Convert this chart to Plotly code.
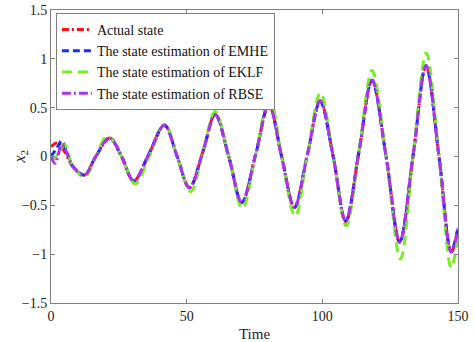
import plotly.graph_objects as go

# ---- data ----
t_actual = [0, 2.5, 5, 8, 12.3, 16.5, 21.8, 26, 30.5, 36, 41.8, 46.5, 51, 56, 60.5, 65.5,
            70.3, 75.5, 80.3, 85, 89.7, 94.5, 99.2, 104, 108.6, 113.5, 118.3, 123.5,
            128.5, 133.5, 138.2, 143, 147.5, 150]
y_actual = [0.10, 0.14, 0.05, -0.10, -0.19, 0.00, 0.19, 0.00, -0.25, 0.02, 0.32, 0.00,
            -0.32, 0.05, 0.43, 0.00, -0.47, 0.03, 0.53, 0.00, -0.52, 0.02, 0.57, 0.00,
            -0.67, 0.05, 0.78, 0.00, -0.88, 0.02, 0.93, 0.00, -0.98, -0.73]

t_emhe = [0, 2, 4, 6, 8, 12.3, 16.5, 21.5, 26, 30.5, 36, 41.8, 46.5, 51, 56, 60.5, 65.5,
          70.3, 75.5, 80.3, 85, 89.7, 94.5, 99.2, 104, 108.6, 113.5, 118.3, 123.5,
          128.5, 133.5, 138.2, 143, 147.5, 150]
y_emhe = [0.00, 0.08, 0.16, 0.03, -0.10, -0.19, 0.00, 0.19, 0.00, -0.25, 0.02, 0.32, 0.00,
          -0.32, 0.05, 0.43, 0.00, -0.47, 0.03, 0.53, 0.00, -0.52, 0.02, 0.56, 0.00,
          -0.66, 0.05, 0.78, 0.00, -0.87, 0.02, 0.93, 0.00, -0.97, -0.73]

t_eklf = [0, 1.5, 3, 5, 8, 12.5, 16.5, 20.8, 26, 31, 36.5, 42, 46.5, 51.5, 56, 60.5, 65.5,
          70.5, 75.5, 80.5, 85, 90, 94.5, 99.3, 104, 108.8, 113.5, 118.3, 123.5,
          128.8, 133.5, 138.3, 143, 147.5, 150]
y_eklf = [0.00, -0.02, 0.05, 0.12, -0.10, -0.21, 0.00, 0.21, 0.00, -0.28, 0.02, 0.33, 0.00,
          -0.36, 0.05, 0.46, 0.00, -0.53, 0.03, 0.62, 0.00, -0.61, 0.02, 0.65, 0.00,
          -0.71, 0.05, 0.88, 0.00, -1.05, 0.02, 1.06, 0.00, -1.14, -0.80]

t_rbse = [0, 1.5, 4, 6, 8, 12.3, 16.5, 21.5, 26, 30.5, 36, 41.8, 46.5, 51, 56, 60.5, 65.5,
          70.3, 75.5, 80.3, 85, 89.7, 94.5, 99.2, 104, 108.6, 113.5, 118.3, 123.5,
          128.5, 133.5, 138.2, 143, 147.5, 150]
y_rbse = [0.00, -0.07, 0.12, 0.03, -0.10, -0.19, 0.00, 0.19, 0.00, -0.25, 0.02, 0.32, 0.00,
          -0.32, 0.05, 0.43, 0.00, -0.47, 0.03, 0.53, 0.00, -0.52, 0.02, 0.57, 0.00,
          -0.66, 0.05, 0.78, 0.00, -0.87, 0.02, 0.93, 0.00, -0.98, -0.73]

series_names = ["Actual state",
                "The state estimation of EMHE",
                "The state estimation of EKLF",
                "The state estimation of RBSE"]

x_tickvals = [0, 50, 100, 150]
x_ticktext = ["0", "50", "100", "150"]
y_tickvals = [-1.5, -1, -0.5, 0, 0.5, 1, 1.5]
y_ticktext = ["\u22121.5", "\u22121", "\u22120.5", "0", "0.5", "1", "1.5"]

# ---- figure ----
FONT = "Liberation Serif, Times New Roman, serif"
AX = "#808080"

styles = [
    dict(color="#ff1010", dash="7px,3px,2px,3px", width=3),
    dict(color="#1a2bff", dash="7px,4px", width=3),
    dict(color="#77ee22", dash="10px,6px", width=3),
    dict(color="#aa33ee", dash="9px,3px,2px,3px", width=3),
]
xs = [t_actual, t_emhe, t_eklf, t_rbse]
ys = [y_actual, y_emhe, y_eklf, y_rbse]

fig = go.Figure()
for name, x, y, st in zip(series_names, xs, ys, styles):
    fig.add_trace(go.Scatter(x=x, y=y, mode="lines", name=name,
                             line=dict(shape="spline", smoothing=1.0, **st)))

axis_common = dict(showline=True, linecolor=AX, linewidth=1, mirror="ticks",
                   ticks="inside", ticklen=4, tickcolor=AX, showgrid=False,
                   zeroline=False, automargin=False,
                   tickfont=dict(family=FONT, size=14, color="#222"))

fig.update_xaxes(range=[0, 150], tickvals=x_tickvals, ticktext=x_ticktext,
                 title=dict(text="Time", font=dict(family=FONT, size=15, color="#222"),
                            standoff=8),
                 **axis_common)
fig.update_yaxes(range=[-1.5, 1.5], tickvals=y_tickvals, ticktext=y_ticktext,
                 **axis_common)

fig.add_annotation(text="<i>x</i><sub>2</sub>", textangle=-90,
                   xref="paper", yref="paper", x=-0.076, y=0.5,
                   xanchor="center", yanchor="middle", showarrow=False,
                   font=dict(family=FONT, size=16, color="#222"))

fig.update_layout(
    width=474, height=342,
    margin=dict(l=51, r=16, t=10, b=39, autoexpand=False),
    plot_bgcolor="white", paper_bgcolor="white",
    showlegend=True,
    legend=dict(x=0.012, y=0.99, xanchor="left", yanchor="top",
                bgcolor="white", bordercolor=AX, borderwidth=1,
                font=dict(family=FONT, size=14, color="#111"),
                itemwidth=30, tracegroupgap=0),
)

fig.write_html("out.html")
